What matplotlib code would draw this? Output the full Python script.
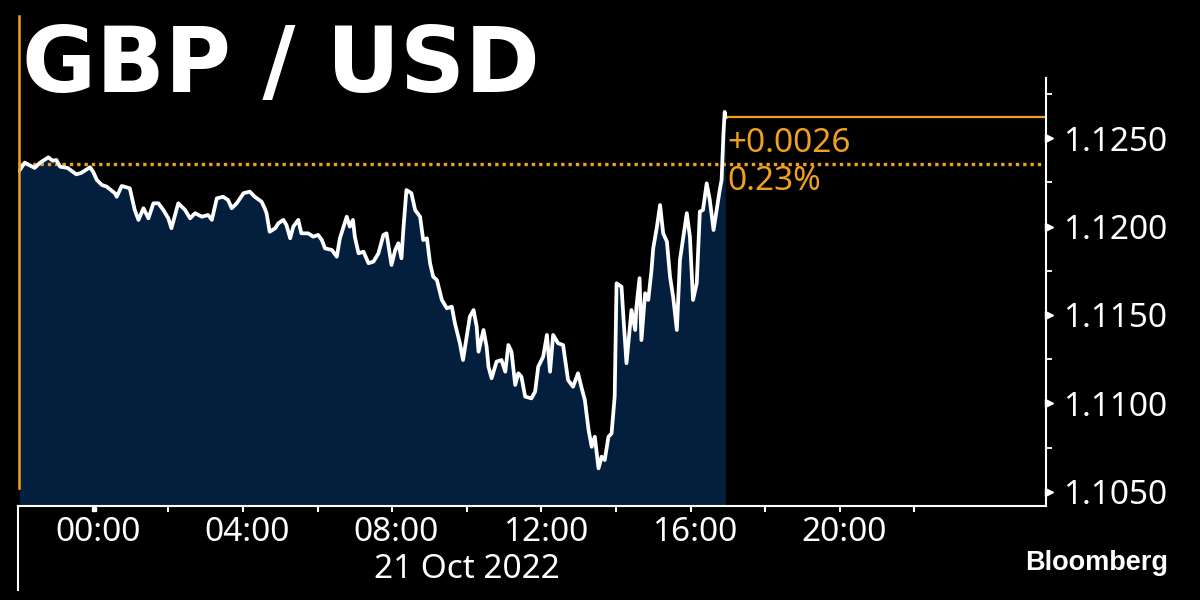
import matplotlib
matplotlib.use("Agg")
import matplotlib.pyplot as plt
import matplotlib.transforms as mtransforms
import numpy as np

# ---------------- data ----------------
title = "GBP / USD"
date_label = "21 Oct 2022"
source = "Bloomberg"

# minutes relative to 21 Oct 2022 00:00 (negative = 20 Oct)
minutes = [-120, -111, -95, -87, -73, -66, -60, -54, -42, -28, -20, -6, -1, 5, 13, 21, 34, 37, 45, 58,
           66, 72, 80, 88, 96, 104, 112, 120, 125, 136, 147, 155, 163, 174, 184, 190, 198, 208, 216, 222,
           230, 241, 251, 259, 270, 275, 278, 283, 292, 297, 305, 310, 316, 321, 329, 334, 345, 353, 361, 367,
           372, 383, 391, 396, 407, 412, 417, 420, 426, 434, 442, 450, 458, 466, 471, 474, 479, 485, 490, 495,
           498, 503, 511, 517, 525, 530, 536, 541, 546, 552, 560, 568, 576, 581, 589, 594, 605, 611, 616, 619,
           627, 632, 635, 640, 648, 656, 662, 667, 672, 678, 683, 688, 694, 704, 710, 715, 723, 729, 734, 739,
           747, 755, 763, 771, 779, 785, 790, 796, 801, 806, 812, 817, 822, 828, 833, 838, 841, 849, 852, 857,
           865, 871, 873, 878, 881, 887, 892, 897, 900, 906, 911, 916, 922, 927, 932, 938, 943, 954, 959, 964,
           970, 975, 980, 986, 991, 997, 1002, 1007, 1010, 1013, 1015, 1016]

prices = [1.12315, 1.12362, 1.12332, 1.12360, 1.12392, 1.12373, 1.12377, 1.12339, 1.12332, 1.12296,
          1.12304, 1.12336, 1.12311, 1.12264, 1.12236, 1.12226, 1.12189, 1.12169, 1.12230, 1.12217,
          1.12094, 1.12038, 1.12104, 1.12047, 1.12132, 1.12132, 1.12094, 1.12047, 1.11991, 1.12132,
          1.12094, 1.12047, 1.12076, 1.12056, 1.12066, 1.12038, 1.12160, 1.12169, 1.12151, 1.12104,
          1.12132, 1.12189, 1.12198, 1.12169, 1.12141, 1.12104, 1.12076, 1.11971, 1.11991, 1.12019,
          1.12038, 1.12009, 1.11934, 1.12000, 1.12038, 1.11962, 1.11962, 1.11943, 1.11953, 1.11924,
          1.11877, 1.11868, 1.11830, 1.11934, 1.12056, 1.12000, 1.12038, 1.11943, 1.11849, 1.11858,
          1.11793, 1.11802, 1.11849, 1.11953, 1.11962, 1.11896, 1.11783, 1.11868, 1.11906, 1.11821,
          1.11981, 1.12207, 1.12189, 1.12094, 1.12056, 1.11924, 1.11934, 1.11793, 1.11717, 1.11698,
          1.11585, 1.11538, 1.11547, 1.11453, 1.11340, 1.11245, 1.11490, 1.11528, 1.11434, 1.11292,
          1.11415, 1.11320, 1.11207, 1.11142, 1.11236, 1.11245, 1.11179, 1.11330, 1.11292, 1.11104,
          1.11170, 1.11151, 1.11038, 1.11028, 1.11066, 1.11207, 1.11264, 1.11387, 1.11179, 1.11387,
          1.11340, 1.11330, 1.11132, 1.11094, 1.11170, 1.11085, 1.11019, 1.10849, 1.10754, 1.10811,
          1.10632, 1.10698, 1.10679, 1.10811, 1.10830, 1.11038, 1.11679, 1.11660, 1.11490, 1.11227,
          1.11528, 1.11415, 1.11547, 1.11708, 1.11358, 1.11623, 1.11585, 1.11745, 1.11877, 1.12000,
          1.12122, 1.11962, 1.11915, 1.11717, 1.11603, 1.11415, 1.11811, 1.12076, 1.11943, 1.11585,
          1.11679, 1.12085, 1.12094, 1.12245, 1.12151, 1.11981, 1.12094, 1.12207, 1.12264, 1.12530,
          1.12649, 1.12621]

prev_close = 1.12355
last_price = 1.12621
change_text = "+0.0026"
pct_text = "0.23%"

y_major = [1.1050, 1.1100, 1.1150, 1.1200, 1.1250]
y_minor = [1.1075, 1.1125, 1.1175, 1.1225, 1.1275]
x_major_hours = [0, 4, 8, 12, 16, 20]
x_major_labels = ["00:00", "04:00", "08:00", "12:00", "16:00", "20:00"]
x_minor_hours = [2, 6, 10, 14, 18, 22]

# ---------------- style ----------------
BG = "black"
NAVY = "#041E3D"
ORANGE = "#F0A020"
FONT = "Noto Sans"
Y_LO, Y_HI = 1.10419, 1.12841
X_LO, X_HI = -2.03, 25.53

fig = plt.figure(figsize=(12, 6), dpi=100, facecolor=BG)
ax = fig.add_axes([18 / 1200, 1 - 506 / 600, (1046 - 18) / 1200, (506 - 78) / 600])
ax.set_facecolor(BG)

hours = np.array(minutes) / 60.0
ax.fill_between(hours, prices, Y_LO, color=NAVY, lw=0, zorder=1)
ax.plot(hours, prices, color="white", lw=2.7, zorder=3)

ax.set_xlim(X_LO, X_HI)
ax.set_ylim(Y_LO, Y_HI)

for s in ["left", "top"]:
    ax.spines[s].set_visible(False)
for s in ["right", "bottom"]:
    ax.spines[s].set_color("white")
    ax.spines[s].set_linewidth(1.5)

# reference lines
ax.axhline(prev_close, color=ORANGE, lw=2.4, linestyle=(0, (1, 1.2)), zorder=2)
ax.hlines(last_price, hours[-1], X_HI, color=ORANGE, lw=1.6, zorder=2)

# annotations
ax.annotate(change_text, xy=(hours[-1], last_price), xytext=(1.5, -7), textcoords="offset points",
            ha="left", va="top", fontsize=24, color=ORANGE, family=FONT, zorder=4)
ax.annotate(pct_text, xy=(hours[-1], prev_close), xytext=(1.5, -1), textcoords="offset points",
            ha="left", va="top", fontsize=24, color=ORANGE, family=FONT, zorder=4)

# y axis on the right
ax.yaxis.tick_right()
ax.set_yticks(y_major)
ax.set_yticklabels([f"{v:.4f}" for v in y_major])
ax.set_yticks(y_minor, minor=True)
ax.tick_params(axis="y", which="major", length=0, pad=12, labelsize=24, labelcolor="white")
ax.tick_params(axis="y", which="minor", length=4.5, width=1.3, color="white", direction="out")
for lab in ax.get_yticklabels():
    lab.set_family(FONT)

tri_trans = mtransforms.blended_transform_factory(ax.transAxes, ax.transData) + \
    mtransforms.ScaledTranslation(2.5 / 100, 0, fig.dpi_scale_trans)
ax.plot([1] * len(y_major), y_major, ls="none", marker=">", ms=6, color="white",
        transform=tri_trans, clip_on=False, zorder=5)

# x axis
ax.set_xticks(x_major_hours)
ax.set_xticklabels(x_major_labels)
ax.set_xticks(x_minor_hours, minor=True)
ax.tick_params(axis="x", which="both", length=4, width=1.5, color="white", direction="out",
               labelsize=24, labelcolor="white", pad=3)
shift = mtransforms.ScaledTranslation(4 / 100, 0, fig.dpi_scale_trans)
for lab in ax.get_xticklabels():
    lab.set_family(FONT)
    lab.set_transform(lab.get_transform() + shift)
ax.plot([0], [Y_LO], ls="none", marker="s", ms=3.5, color="white", clip_on=False, zorder=5,
        transform=ax.transData + mtransforms.ScaledTranslation(0, -3 / 100, fig.dpi_scale_trans))

# vertical markers at left
fig_x_data = mtransforms.blended_transform_factory(ax.transData, fig.transFigure)
ax.plot([hours[0], hours[0]], [1 - 16 / 600, 1 - 488 / 600], color=ORANGE, lw=1.8,
        transform=fig_x_data, clip_on=False, zorder=6)
ax.plot([X_LO, X_LO], [1 - 506 / 600, 1 - 590 / 600], color="white", lw=1.5,
        transform=fig_x_data, clip_on=False, zorder=6)

# texts
fig.text(22 / 1200, 1 - 92 / 600, title, fontsize=65, weight="bold", family="DejaVu Sans",
         color="white", va="baseline", ha="left")
fig.text(10, 1 - 570 / 600, date_label, transform=fig_x_data, ha="center", va="center",
         fontsize=24, color="white", family=FONT)
fig.text(1168 / 1200, 1 - 563 / 600, source, ha="right", va="center", fontsize=19.5,
         weight="bold", family="Liberation Sans", color="white")

fig.savefig("out.png", dpi=100, facecolor=BG)
